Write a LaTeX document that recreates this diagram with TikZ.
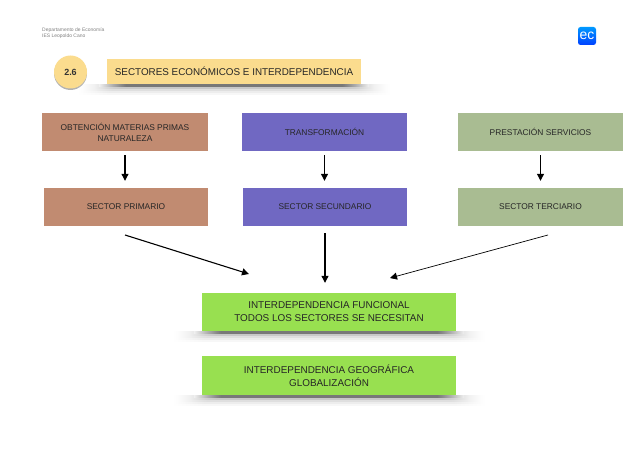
\documentclass[tikz,border=0pt]{standalone}
\usepackage{fontspec}
\setmainfont{Liberation Sans}
\usetikzlibrary{arrows.meta,shadows}
\definecolor{tierra}{HTML}{C18B71}
\definecolor{malva}{HTML}{7068C2}
\definecolor{salvia}{HTML}{A9BC92}
\definecolor{lima}{HTML}{98E050}
\definecolor{arena}{HTML}{FBDC8E}
\pgfdeclarehorizontalshading{sombrash}{100bp}{color(0bp)=(white); color(25bp)=(white); color(30bp)=(black); color(70bp)=(black); color(75bp)=(white); color(100bp)=(white)}
\tikzset{
  caja/.style={inner sep=0pt,align=center,text=black!85,font=\fontsize{8.4}{11}\selectfont,minimum height=38bp},
  cajaverde/.style={caja,fill=lima,minimum width=254bp,font=\fontsize{9.95}{13}\selectfont},
  flecha/.style={-{Triangle[length=7bp,width=7bp]},line width=1.1pt,black},
}
\begin{document}
\begin{tikzpicture}[x=1bp,y=-1bp]
  \useasboundingbox (0,0) rectangle (638,452);
  % cabecera
  \node[anchor=north west,inner sep=0pt,align=left,text=black!50,font=\fontsize{5}{6.6}\selectfont] (dep) at (42,27.5){Departamento de Economía\\IES Leopoldo Cano};
  \node[top color=cyan!60!blue,bottom color=blue!75!cyan,rounded corners=2.5bp,minimum size=18bp,inner sep=0pt,text=white,font=\fontsize{14}{14}\selectfont] (logo) at (587,36){ec};
  \node[circle,general shadow={fill=black,opacity=.3,shadow xshift=0bp,shadow yshift=-1.5bp},fill=arena,minimum size=33bp,inner sep=0pt,font=\fontsize{9}{10}\bfseries\selectfont,text=black!80] (num) at (70.5,72){2.6};
  \node[fill=arena,minimum width=254bp,minimum height=25bp,inner sep=0pt,text=black!85,font=\fontsize{9.9}{11}\selectfont] (titulo) at (234,71.5){SECTORES ECONÓMICOS E INTERDEPENDENCIA};
  % sectores
  \node[caja,fill=tierra,minimum width=166bp] (obt) at (125,132){OBTENCIÓN MATERIAS PRIMAS\\NATURALEZA};
  \node[caja,fill=malva,minimum width=165bp] (tra) at (324.5,132){TRANSFORMACIÓN};
  \node[caja,fill=salvia,minimum width=165bp] (pre) at (540.5,132){PRESTACIÓN SERVICIOS};
  \node[caja,fill=tierra,minimum width=164bp] (pri) at (126,207){SECTOR PRIMARIO};
  \node[caja,fill=malva,minimum width=164bp] (sec) at (325,207){SECTOR SECUNDARIO};
  \node[caja,fill=salvia,minimum width=165bp] (ter) at (540.5,207){SECTOR TERCIARIO};
  \node[cajaverde] (fun) at (329,312){INTERDEPENDENCIA FUNCIONAL\\TODOS LOS SECTORES SE NECESITAN};
  \node[cajaverde,minimum height=39bp] (geo) at (329,375.5){INTERDEPENDENCIA GEOGRÁFICA\\GLOBALIZACIÓN};
  % sombras
  \foreach \caja in {titulo,fun,geo}
    \foreach \alto/\lado/\opac in {10/30/.03,8/28/.04,6/24/.06,4/14/.1,2/8/.4}
      \shade[shading=sombrash,opacity=\opac] ([xshift=-\lado bp]\caja.south west) rectangle ([xshift=\lado bp,yshift=-\alto bp]\caja.south east);
  % flechas
  \coordinate (a1) at (125,235);
  \coordinate (b1) at (249,274);
  \coordinate (a3) at (548,235);
  \coordinate (b3) at (390,278);
  \draw[flecha,shorten <=4bp,shorten >=7bp] (obt.south) -- (obt.south|-pri.north);
  \draw[flecha,shorten <=4bp,shorten >=7bp] (tra.south) -- (tra.south|-sec.north);
  \draw[flecha,shorten <=4bp,shorten >=7bp] (pre.south) -- (pre.south|-ter.north);
  \draw[flecha] (a1) -- (b1);
  \draw[flecha,shorten <=7bp,shorten >=10bp] (sec.south) -- (sec.south|-fun.north);
  \draw[flecha,line width=.7pt] (a3) -- (b3);
\end{tikzpicture}
\end{document}
